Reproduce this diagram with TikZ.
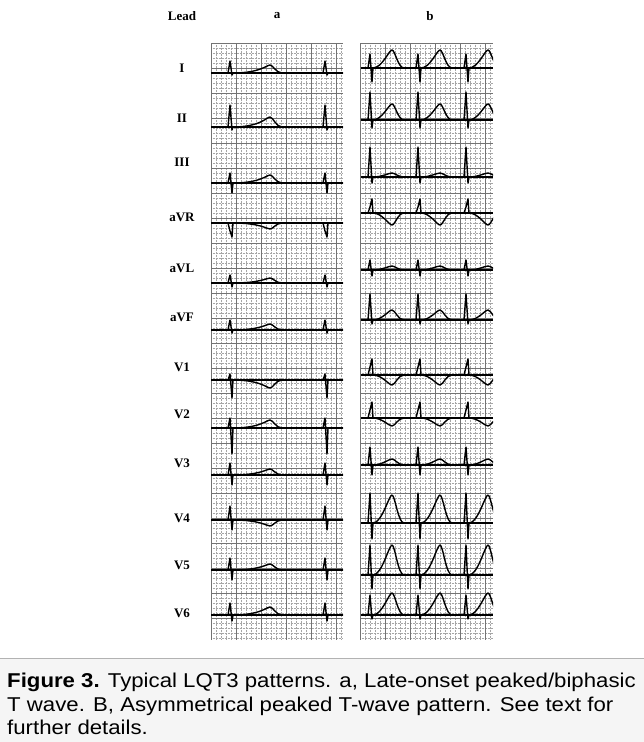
\documentclass[tikz,border=0pt]{standalone}
\usepackage{fontspec}
\setmainfont{Liberation Serif}
\newfontfamily\capfont{Liberation Sans}
\begin{document}
\begin{tikzpicture}[x=1pt,y=-1pt,
  lbl/.style={font=\bfseries\fontsize{13}{15}\selectfont,anchor=center},
  trace/.style={line width=1.4pt,line join=round},
  minor/.style={gray!70,line width=0.5pt,densely dotted},
  major/.style={gray!90!black,line width=0.6pt}]
\useasboundingbox (0,0) rectangle (644,742);
\foreach \xa/\xb in {211/343,360/493}{
  \foreach \i in {0,...,26}{\draw[minor] ({\xa+\i*5},43) -- ({\xa+\i*5},640);}
  \foreach \j in {0,...,119}{\draw[minor] (\xa,{43+\j*5}) -- (\xb,{43+\j*5});}
  \foreach \i in {0,...,5}{\draw[major] ({\xa+\i*25},43) -- ({\xa+\i*25},640);}
  \foreach \j in {0,...,23}{\draw[major] (\xa,{43+\j*25}) -- (\xb,{43+\j*25});}
}
\node[lbl] (hl) at (182,16) {Lead};
\node[lbl] (ha) at (277,16) {a};
\node[lbl] (hb) at (430,16) {b};
\newcommand\beat[6]{%
  \draw[trace] ({#1-2},#2) -- (#1,{#2-#3}) -- ({#1+2},{#2+#4}) -- ({#1+3},#2)
   .. controls ({#1+#6-10},#2) and ({#1+#6-3},{#2-#5}) .. ({#1+#6},{#2-#5})
   .. controls ({#1+#6+3},{#2-#5}) and ({#1+#6+6},#2) .. ({#1+#6+12},#2);}
\begin{scope}
\clip (211,43) rectangle (343,640) (360,43) rectangle (493,640);
\foreach \name/\ya/\yb/\ra/\sa/\ta/\rb/\sb/\tb [count=\k] in {
 I/73/68/12/2/8/14/14/18,
 II/127/120/22/3/10/28/8/16,
 III/183/177/10/10/8/30/6/4,
 aVR/223/213/-8/14/-6/6/-14/-12,
 aVL/283/270/8/4/5/10/6/4,
 aVF/330/320/10/3/6/26/4/10,
 V1/380/375/6/18/-8/8/-16/-10,
 V2/428/418/10/26/8/8/-16/-8,
 V3/475/465/12/10/6/18/10/6,
 V4/520/523/14/10/-6/30/16/28,
 V5/570/575/12/10/6/30/14/30,
 V6/615/615/12/6/8/20/4/22}{
  \draw[trace] (211,\ya) -- (343,\ya);
  \beat{230}{\ya}{\ra}{\sa}{\ta}{40}
  \beat{325}{\ya}{\ra}{\sa}{0}{8}
  \draw[trace] (361,\yb) -- (493,\yb);
  \foreach \bx in {370,418,466}{\beat{\bx}{\yb}{\rb}{\sb}{\tb}{22}}
}
\end{scope}
\foreach \name/\yl [count=\k] in {I/68,II/118,III/162,aVR/217,aVL/268,aVF/317,V1/367,V2/414,V3/463,V4/518,V5/565,V6/613}{
  \node[lbl] (L\k) at (182,\yl) {\name};}
\fill[gray!8] (0,658) rectangle (644,742);
\draw[gray!60] (0,658) -- (644,658);
\node[anchor=west,font=\capfont\fontsize{20}{23.5}\selectfont,align=left,inner sep=0pt,xscale=1.11] (cap) at (7,704)
{\textbf{Figure 3.} Typical LQT3 patterns. a, Late-onset peaked/biphasic\\T wave. B, Asymmetrical peaked T-wave pattern. See text for\\further details.};
\end{tikzpicture}
\end{document}
